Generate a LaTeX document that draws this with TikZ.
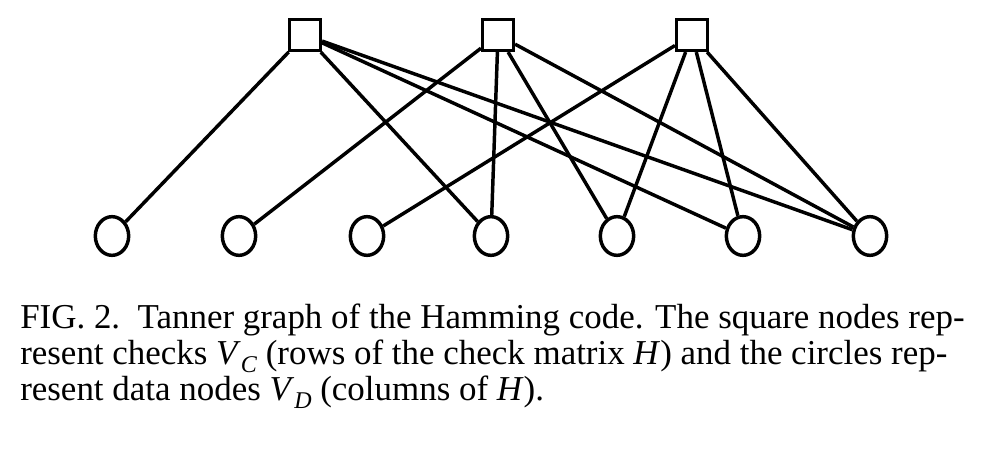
\documentclass[tikz,border=0pt]{standalone}
\usepackage{fontspec}
\setmainfont{Liberation Serif}
\usetikzlibrary{shapes.geometric}
\newcommand{\mysub}[2]{\textit{#1}\raisebox{-0.25em}{\fontsize{18}{18}\selectfont\textit{#2}}}
\begin{document}
\begin{tikzpicture}[x=0.75pt,y=-0.75pt,
  chk/.style={draw,line width=2.6pt,minimum size=23pt,inner sep=0pt},
  dat/.style={draw,line width=2.6pt,ellipse,minimum width=25pt,minimum height=29pt,inner sep=0pt},
  edge/.style={line width=2.6pt},
  captxt/.style={anchor=base west,inner sep=0pt,font=\fontsize{26.2}{30}\selectfont}]
\useasboundingbox (0,0) rectangle (988,452);
\node[chk] (s1) at (305,35) {};
\node[chk] (s2) at (498,35) {};
\node[chk] (s3) at (692,35) {};
\foreach \i/\x in {1/112,2/239,3/367,4/491,5/617,6/743,7/870}
  \node[dat] (c\i) at (\x,236) {};
\foreach \a/\b in {s1/c1,s1/c4,s1/c6,s1/c7,s2/c2,s2/c4,s2/c5,s2/c7,s3/c3,s3/c5,s3/c6,s3/c7}
  \draw[edge] (\a) -- (\b);
\node[captxt] (l1) at (20,328) {FIG. 2.\ \ Tanner graph of the Hamming code. The square nodes rep-};
\node[captxt] (l2) at (20,364) {resent checks \mysub{V}{C} (rows of the check matrix \textit{H}) and the circles rep-};
\node[captxt] (l3) at (20,400) {resent data nodes \mysub{V}{D} (columns of \textit{H}).};
\end{tikzpicture}
\end{document}
